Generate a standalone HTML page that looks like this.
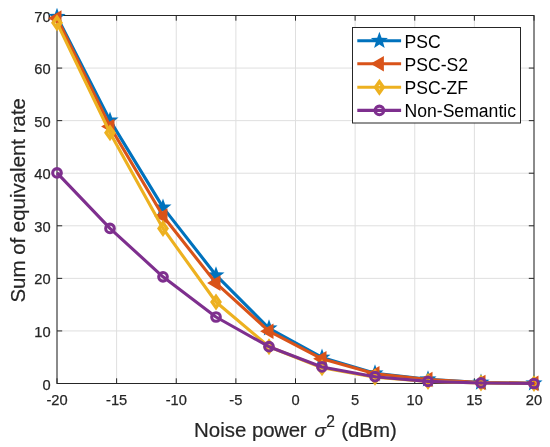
<!DOCTYPE html>
<html><head><meta charset="utf-8"><title>Sum of equivalent rate vs noise power</title>
<style>html,body{margin:0;padding:0;background:#fff;}body{width:550px;height:447px;position:relative;overflow:hidden}</style>
</head><body>
<svg width="550" height="447" viewBox="0 0 550 447" style="position:absolute;left:0;top:0">
<rect width="550" height="447" fill="#fff"/>
<path d="M57.00 15.5 V383.5 M116.62 15.5 V383.5 M176.25 15.5 V383.5 M235.88 15.5 V383.5 M295.50 15.5 V383.5 M355.12 15.5 V383.5 M414.75 15.5 V383.5 M474.38 15.5 V383.5 M534.00 15.5 V383.5 M57.0 383.50 H534.0 M57.0 330.93 H534.0 M57.0 278.36 H534.0 M57.0 225.79 H534.0 M57.0 173.21 H534.0 M57.0 120.64 H534.0 M57.0 68.07 H534.0 M57.0 15.50 H534.0" stroke="#dfdfdf" stroke-width="1" fill="none"/>
<path d="M57.00 383.5 v-5.2 M57.00 15.5 v5.2 M116.62 383.5 v-5.2 M116.62 15.5 v5.2 M176.25 383.5 v-5.2 M176.25 15.5 v5.2 M235.88 383.5 v-5.2 M235.88 15.5 v5.2 M295.50 383.5 v-5.2 M295.50 15.5 v5.2 M355.12 383.5 v-5.2 M355.12 15.5 v5.2 M414.75 383.5 v-5.2 M414.75 15.5 v5.2 M474.38 383.5 v-5.2 M474.38 15.5 v5.2 M534.00 383.5 v-5.2 M534.00 15.5 v5.2 M57.0 383.50 h5.2 M534.0 383.50 h-5.2 M57.0 330.93 h5.2 M534.0 330.93 h-5.2 M57.0 278.36 h5.2 M534.0 278.36 h-5.2 M57.0 225.79 h5.2 M534.0 225.79 h-5.2 M57.0 173.21 h5.2 M534.0 173.21 h-5.2 M57.0 120.64 h5.2 M534.0 120.64 h-5.2 M57.0 68.07 h5.2 M534.0 68.07 h-5.2 M57.0 15.50 h5.2 M534.0 15.50 h-5.2" stroke="#262626" stroke-width="1" fill="none"/>
<rect x="57.0" y="15.5" width="477.00" height="368.00" fill="none" stroke="#262626" stroke-width="1"/>
<g font-family="'Liberation Sans', Arial, Helvetica, sans-serif" font-size="14.67" fill="#262626" stroke="#262626" stroke-width="0.25">
<text x="57.00" y="405.2" text-anchor="middle">-20</text>
<text x="116.62" y="405.2" text-anchor="middle">-15</text>
<text x="176.25" y="405.2" text-anchor="middle">-10</text>
<text x="235.88" y="405.2" text-anchor="middle">-5</text>
<text x="295.50" y="405.2" text-anchor="middle">0</text>
<text x="355.12" y="405.2" text-anchor="middle">5</text>
<text x="414.75" y="405.2" text-anchor="middle">10</text>
<text x="474.38" y="405.2" text-anchor="middle">15</text>
<text x="534.00" y="405.2" text-anchor="middle">20</text>
<text x="50.6" y="389.60" text-anchor="end">0</text>
<text x="50.6" y="337.03" text-anchor="end">10</text>
<text x="50.6" y="284.46" text-anchor="end">20</text>
<text x="50.6" y="231.89" text-anchor="end">30</text>
<text x="50.6" y="179.31" text-anchor="end">40</text>
<text x="50.6" y="126.74" text-anchor="end">50</text>
<text x="50.6" y="74.17" text-anchor="end">60</text>
<text x="50.6" y="21.60" text-anchor="end">70</text>
</g>
<g font-family="'Liberation Sans', Arial, Helvetica, sans-serif" font-size="20.45" fill="#262626" stroke="#262626" stroke-width="0.2">
<text id="xl" y="436.9"><tspan x="194.1">Noise </tspan><tspan x="252.1" letter-spacing="-0.3">power </tspan><tspan x="314.4" font-style="italic" font-size="19">σ</tspan><tspan x="326.2" font-size="15.6" dy="-9.6">2</tspan><tspan x="341.2" dy="9.6">(dBm)</tspan></text>
<text id="yl" transform="translate(24.7,200.3) rotate(-90)" text-anchor="middle">Sum of equivalent rate</text>
</g>
<polyline points="57.00,16.81 110.00,120.38 163.00,207.39 216.00,275.20 269.00,328.30 322.00,357.48 375.00,373.25 428.00,379.29 481.00,382.45 534.00,383.34" fill="none" stroke="#0072BD" stroke-width="3.1" stroke-linejoin="round"/>
<polygon points="57.00,7.81 59.17,13.83 65.56,14.03 60.51,17.95 62.29,24.10 57.00,20.50 51.71,24.10 53.49,17.95 48.44,14.03 54.83,13.83" fill="#0072BD"/>
<polygon points="110.00,111.38 112.17,117.39 118.56,117.60 113.51,121.52 115.29,127.66 110.00,124.07 104.71,127.66 106.49,121.52 101.44,117.60 107.83,117.39" fill="#0072BD"/>
<polygon points="163.00,198.39 165.17,204.40 171.56,204.60 166.51,208.53 168.29,214.67 163.00,211.08 157.71,214.67 159.49,208.53 154.44,204.60 160.83,204.40" fill="#0072BD"/>
<polygon points="216.00,266.20 218.17,272.22 224.56,272.42 219.51,276.34 221.29,282.48 216.00,278.89 210.71,282.48 212.49,276.34 207.44,272.42 213.83,272.22" fill="#0072BD"/>
<polygon points="269.00,319.30 271.17,325.31 277.56,325.52 272.51,329.44 274.29,335.58 269.00,331.99 263.71,335.58 265.49,329.44 260.44,325.52 266.83,325.31" fill="#0072BD"/>
<polygon points="322.00,348.48 324.17,354.49 330.56,354.70 325.51,358.62 327.29,364.76 322.00,361.17 316.71,364.76 318.49,358.62 313.44,354.70 319.83,354.49" fill="#0072BD"/>
<polygon points="375.00,364.25 377.17,370.26 383.56,370.47 378.51,374.39 380.29,380.53 375.00,376.94 369.71,380.53 371.49,374.39 366.44,370.47 372.83,370.26" fill="#0072BD"/>
<polygon points="428.00,370.29 430.17,376.31 436.56,376.51 431.51,380.43 433.29,386.58 428.00,382.98 422.71,386.58 424.49,380.43 419.44,376.51 425.83,376.31" fill="#0072BD"/>
<polygon points="481.00,373.45 483.17,379.46 489.56,379.67 484.51,383.59 486.29,389.73 481.00,386.14 475.71,389.73 477.49,383.59 472.44,379.67 478.83,379.46" fill="#0072BD"/>
<polygon points="534.00,374.34 536.17,380.36 542.56,380.56 537.51,384.48 539.29,390.62 534.00,387.03 528.71,390.62 530.49,384.48 525.44,380.56 531.83,380.36" fill="#0072BD"/>
<polyline points="57.00,18.13 110.00,126.43 163.00,216.06 216.00,283.09 269.00,331.19 322.00,358.79 375.00,373.77 428.00,379.56 481.00,382.45 534.00,383.34" fill="none" stroke="#D95319" stroke-width="3.1" stroke-linejoin="round"/>
<polygon points="48.10,18.13 61.50,10.33 61.50,25.93" fill="#D95319"/>
<polygon points="101.10,126.43 114.50,118.63 114.50,134.23" fill="#D95319"/>
<polygon points="154.10,216.06 167.50,208.26 167.50,223.86" fill="#D95319"/>
<polygon points="207.10,283.09 220.50,275.29 220.50,290.89" fill="#D95319"/>
<polygon points="260.10,331.19 273.50,323.39 273.50,338.99" fill="#D95319"/>
<polygon points="313.10,358.79 326.50,350.99 326.50,366.59" fill="#D95319"/>
<polygon points="366.10,373.77 379.50,365.97 379.50,381.57" fill="#D95319"/>
<polygon points="419.10,379.56 432.50,371.76 432.50,387.36" fill="#D95319"/>
<polygon points="472.10,382.45 485.50,374.65 485.50,390.25" fill="#D95319"/>
<polygon points="525.10,383.34 538.50,375.54 538.50,391.14" fill="#D95319"/>
<polyline points="57.00,22.86 110.00,132.73 163.00,228.41 216.00,302.01 269.00,346.70 322.00,367.73 375.00,377.19 428.00,381.40 481.00,382.97 534.00,383.50" fill="none" stroke="#EDB120" stroke-width="3.1" stroke-linejoin="round"/>
<polygon points="57.00,17.26 60.90,22.86 57.00,28.46 53.10,22.86" fill="none" stroke="#EDB120" stroke-width="3.4" stroke-linejoin="miter" stroke-miterlimit="10"/>
<polygon points="110.00,127.13 113.90,132.73 110.00,138.33 106.10,132.73" fill="none" stroke="#EDB120" stroke-width="3.4" stroke-linejoin="miter" stroke-miterlimit="10"/>
<polygon points="163.00,222.81 166.90,228.41 163.00,234.01 159.10,228.41" fill="none" stroke="#EDB120" stroke-width="3.4" stroke-linejoin="miter" stroke-miterlimit="10"/>
<polygon points="216.00,296.41 219.90,302.01 216.00,307.61 212.10,302.01" fill="none" stroke="#EDB120" stroke-width="3.4" stroke-linejoin="miter" stroke-miterlimit="10"/>
<polygon points="269.00,341.10 272.90,346.70 269.00,352.30 265.10,346.70" fill="none" stroke="#EDB120" stroke-width="3.4" stroke-linejoin="miter" stroke-miterlimit="10"/>
<polygon points="322.00,362.13 325.90,367.73 322.00,373.33 318.10,367.73" fill="none" stroke="#EDB120" stroke-width="3.4" stroke-linejoin="miter" stroke-miterlimit="10"/>
<polygon points="375.00,371.59 378.90,377.19 375.00,382.79 371.10,377.19" fill="none" stroke="#EDB120" stroke-width="3.4" stroke-linejoin="miter" stroke-miterlimit="10"/>
<polygon points="428.00,375.80 431.90,381.40 428.00,387.00 424.10,381.40" fill="none" stroke="#EDB120" stroke-width="3.4" stroke-linejoin="miter" stroke-miterlimit="10"/>
<polygon points="481.00,377.37 484.90,382.97 481.00,388.57 477.10,382.97" fill="none" stroke="#EDB120" stroke-width="3.4" stroke-linejoin="miter" stroke-miterlimit="10"/>
<polygon points="534.00,377.90 537.90,383.50 534.00,389.10 530.10,383.50" fill="none" stroke="#EDB120" stroke-width="3.4" stroke-linejoin="miter" stroke-miterlimit="10"/>
<polyline points="57.00,172.90 110.00,228.41 163.00,276.78 216.00,317.00 269.00,346.70 322.00,366.94 375.00,376.67 428.00,381.40 481.00,382.97 534.00,383.50" fill="none" stroke="#7E2F8E" stroke-width="3.1" stroke-linejoin="round"/>
<circle cx="57.00" cy="172.90" r="4.3" fill="none" stroke="#7E2F8E" stroke-width="3.1"/>
<circle cx="110.00" cy="228.41" r="4.3" fill="none" stroke="#7E2F8E" stroke-width="3.1"/>
<circle cx="163.00" cy="276.78" r="4.3" fill="none" stroke="#7E2F8E" stroke-width="3.1"/>
<circle cx="216.00" cy="317.00" r="4.3" fill="none" stroke="#7E2F8E" stroke-width="3.1"/>
<circle cx="269.00" cy="346.70" r="4.3" fill="none" stroke="#7E2F8E" stroke-width="3.1"/>
<circle cx="322.00" cy="366.94" r="4.3" fill="none" stroke="#7E2F8E" stroke-width="3.1"/>
<circle cx="375.00" cy="376.67" r="4.3" fill="none" stroke="#7E2F8E" stroke-width="3.1"/>
<circle cx="428.00" cy="381.40" r="4.3" fill="none" stroke="#7E2F8E" stroke-width="3.1"/>
<circle cx="481.00" cy="382.97" r="4.3" fill="none" stroke="#7E2F8E" stroke-width="3.1"/>
<circle cx="534.00" cy="383.50" r="4.3" fill="none" stroke="#7E2F8E" stroke-width="3.1"/>
<rect x="352.5" y="27.5" width="168" height="95.5" fill="#fff" stroke="#262626" stroke-width="1"/>
<g font-family="'Liberation Sans', Arial, Helvetica, sans-serif" font-size="17.6" fill="#000">
<line x1="357.3" x2="401.1" y1="40.7" y2="40.7" stroke="#0072BD" stroke-width="3.1"/>
<polygon points="379.40,31.70 381.57,37.71 387.96,37.92 382.91,41.84 384.69,47.98 379.40,44.39 374.11,47.98 375.89,41.84 370.84,37.92 377.23,37.71" fill="#0072BD"/>
<text x="404.5" y="47.70">PSC</text>
<line x1="357.3" x2="401.1" y1="63.8" y2="63.8" stroke="#D95319" stroke-width="3.1"/>
<polygon points="370.50,63.80 383.90,56.00 383.90,71.60" fill="#D95319"/>
<text x="404.5" y="70.80">PSC-S2</text>
<line x1="357.3" x2="401.1" y1="87.2" y2="87.2" stroke="#EDB120" stroke-width="3.1"/>
<polygon points="379.40,81.60 383.30,87.20 379.40,92.80 375.50,87.20" fill="none" stroke="#EDB120" stroke-width="3.4" stroke-linejoin="miter" stroke-miterlimit="10"/>
<text x="404.5" y="94.20">PSC-ZF</text>
<line x1="357.3" x2="401.1" y1="110.4" y2="110.4" stroke="#7E2F8E" stroke-width="3.1"/>
<circle cx="379.40" cy="110.40" r="4.3" fill="none" stroke="#7E2F8E" stroke-width="3.1"/>
<text x="404.5" y="117.40">Non-Semantic</text>
</g>
</svg>
</body></html>
